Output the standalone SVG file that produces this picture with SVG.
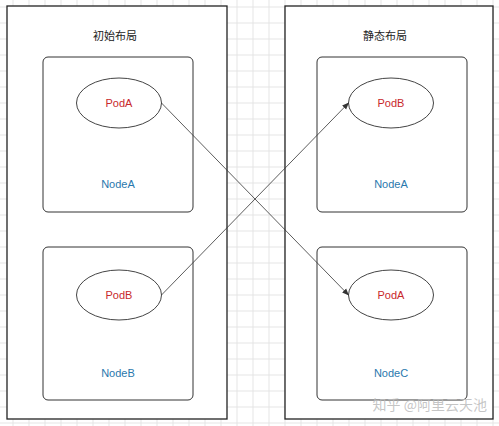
<svg xmlns="http://www.w3.org/2000/svg" width="499" height="426" viewBox="0 0 499 426">
<defs>
<pattern id="grid" x="12.5" y="6.5" width="16" height="16" patternUnits="userSpaceOnUse">
<path d="M0.5 0 V16 M0 0.5 H16" fill="none" stroke="#e4e4e4" stroke-width="1"/>
</pattern>
<marker id="arr" viewBox="0 0 10 10" refX="9" refY="5" markerWidth="7" markerHeight="7" orient="auto" markerUnits="userSpaceOnUse">
<path d="M0 1 L10 5 L0 9 Z" fill="#333"/>
</marker>
<style>
.outer{fill:#fff;stroke:#222;stroke-width:1.3}
.node{fill:#fff;stroke:#333;stroke-width:1}
.pod{fill:#fff;stroke:#444;stroke-width:1}
.title{font-family:"Noto Sans CJK SC","Liberation Sans",sans-serif;font-size:11px;fill:#222;text-anchor:middle}
.podt{font-family:"Liberation Sans",sans-serif;font-size:11px;fill:#c8282c;text-anchor:middle}
.nodet{font-family:"Liberation Sans",sans-serif;font-size:11px;fill:#2a78ad;text-anchor:middle}
.conn{fill:none;stroke:#333;stroke-width:0.8}
</style>
</defs>
<rect width="499" height="426" fill="#fff"/>
<rect width="499" height="426" fill="url(#grid)"/>
<g id="initial">
<rect class="outer" x="7" y="6" width="220" height="413"/>
<text class="title" x="115" y="40">初始布局</text>
</g>
<g id="static">
<rect class="outer" x="285" y="6" width="208" height="413"/>
<text class="title" x="385" y="40">静态布局</text>
</g>
<g id="left-nodeA">
<rect class="node" x="43" y="57" width="150" height="155" rx="5"/>
<text class="nodet" x="118" y="188">NodeA</text>
</g>
<g id="left-nodeB">
<rect class="node" x="43" y="247" width="150" height="153" rx="5"/>
<text class="nodet" x="118" y="377">NodeB</text>
</g>
<g id="right-nodeA">
<rect class="node" x="317" y="57" width="150" height="155" rx="5"/>
<text class="nodet" x="391" y="188">NodeA</text>
</g>
<g id="right-nodeC">
<rect class="node" x="317" y="247" width="150" height="153" rx="5"/>
<text class="nodet" x="391" y="377">NodeC</text>
</g>
<g id="left-podA">
<ellipse class="pod" cx="119" cy="103" rx="42.5" ry="25"/>
<text class="podt" x="119" y="107">PodA</text>
</g>
<g id="left-podB">
<ellipse class="pod" cx="119" cy="295" rx="42.5" ry="25"/>
<text class="podt" x="119" y="299">PodB</text>
</g>
<g id="right-podB">
<ellipse class="pod" cx="391" cy="103" rx="42.5" ry="25"/>
<text class="podt" x="391" y="107">PodB</text>
</g>
<g id="right-podA">
<ellipse class="pod" cx="391" cy="295" rx="42.5" ry="25"/>
<text class="podt" x="391" y="299">PodA</text>
</g>
<g id="connectors">
<line class="conn" x1="161.5" y1="103" x2="348.5" y2="295" marker-end="url(#arr)"/>
<line class="conn" x1="161.5" y1="295" x2="348.5" y2="103" marker-end="url(#arr)"/>
</g>
<text x="487" y="410" font-family="Noto Sans CJK SC,sans-serif" font-size="14" fill="#bbb" fill-opacity="0.85" text-anchor="end">知乎 @阿里云天池</text>
</svg>
